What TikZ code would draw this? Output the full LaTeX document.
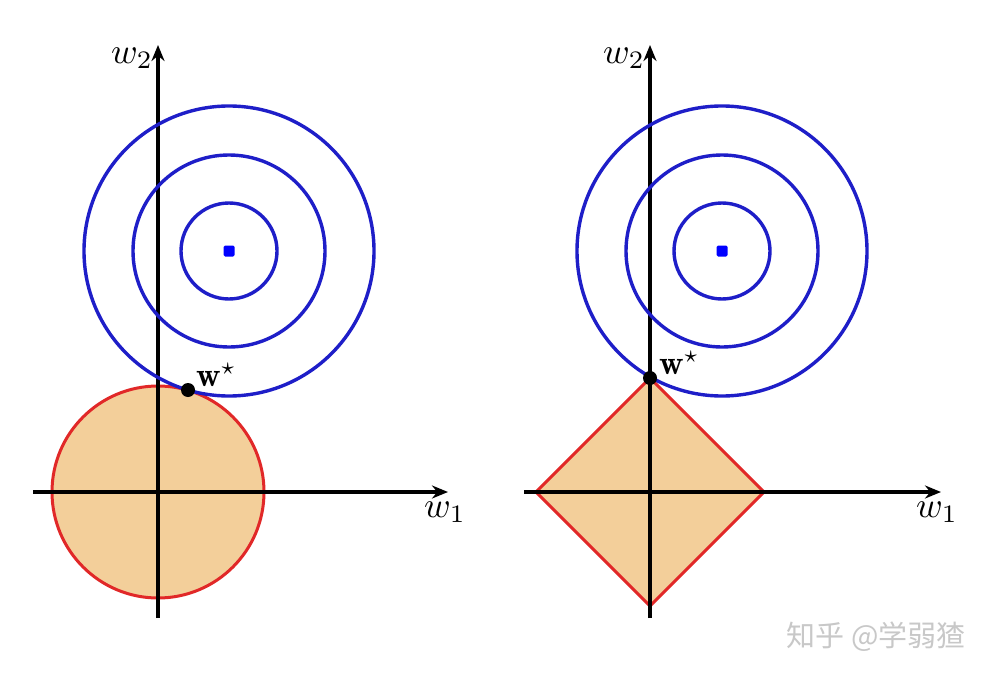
\documentclass[tikz,border=0pt]{standalone}
\usepackage{graphicx}
\usepackage{fontspec}
\newfontfamily\cjk{Noto Sans CJK SC}
\usetikzlibrary{arrows.meta}
\definecolor{tan}{RGB}{243,207,154}
\definecolor{cred}{RGB}{225,40,40}
\definecolor{cblue}{RGB}{30,30,200}
\definecolor{wm}{RGB}{200,200,200}
\newcommand{\axlab}[1]{\scalebox{3.6}{$#1$}}
\newcommand{\optlab}[1]{\scalebox{3.4}{$#1$}}
\tikzset{
  axis/.style={line width=3.2pt,-{Stealth[length=16pt,width=13pt]}},
  contour/.style={cblue,line width=3.4pt},
  ball/.style={draw=cred,fill=tan,line width=3pt},
  lbl/.style={inner sep=0pt},
  wlbl/.style={inner sep=0pt},
  opt/.style={circle,fill=black,minimum size=14pt,inner sep=0pt},
  ctr/.style={rectangle,rounded corners=1.5pt,fill=blue,minimum size=11pt,inner sep=0pt}
}
\begin{document}
\begin{tikzpicture}[x=1pt,y=-1pt]
\useasboundingbox[fill=white] (0,0) rectangle (995,679);
% ---------- left panel ----------
\coordinate (Lo) at (158,492);
\fill[tan] (Lo) circle (106);
\draw[ball,fill=none] (Lo) circle (106);
\coordinate (Lxa) at (33,492);
\coordinate (Lxb) at (448,492);
\coordinate (Lya) at (158,618);
\coordinate (Lyb) at (158,45);
\draw[axis] (Lxa) -- (Lxb);
\draw[axis] (Lya) -- (Lyb);
\coordinate (Lc) at (229,251);
\draw[contour] (Lc) circle (48);
\draw[contour] (Lc) circle (96);
\draw[contour] (Lc) circle (145);
\node[ctr] (Lcen) at (Lc) {};
\node[opt] (Lw) at (188,390) {};
\node[wlbl,anchor=south west] (Lwl) at (196,387) {\optlab{\mathbf{w}^{\star}}};
\node[lbl] (Lw2) at (132,58) {\axlab{w_2}};
\node[lbl] (Lw1) at (445,512) {\axlab{w_1}};
% ---------- right panel ----------
\coordinate (Ro) at (650,492);
\coordinate (Rl) at (536,492);
\coordinate (Rt) at (650,378);
\coordinate (Rr) at (764,492);
\coordinate (Rb) at (650,606);
\draw[ball,line join=miter] (Rl) -- (Rt) -- (Rr) -- (Rb) -- cycle;
\coordinate (Rxa) at (524,492);
\coordinate (Rxb) at (941,492);
\coordinate (Rya) at (650,618);
\coordinate (Ryb) at (650,45);
\draw[axis] (Rxa) -- (Rxb);
\draw[axis] (Rya) -- (Ryb);
\coordinate (Rc) at (722,251);
\draw[contour] (Rc) circle (48);
\draw[contour] (Rc) circle (96);
\draw[contour] (Rc) circle (145);
\node[ctr] (Rcen) at (Rc) {};
\node[opt] (Rw) at (Rt) {};
\node[wlbl,anchor=south west] (Rwl) at (659,375) {\optlab{\mathbf{w}^{\star}}};
\node[lbl] (Rw2) at (624,58) {\axlab{w_2}};
\node[lbl] (Rw1) at (937,512) {\axlab{w_1}};
% ---------- watermark ----------
\node[font=\cjk\fontsize{29}{31}\selectfont,text=wm,inner sep=0pt] (wmk) at (876,637) {知乎 @学弱猹};
\end{tikzpicture}
\end{document}
